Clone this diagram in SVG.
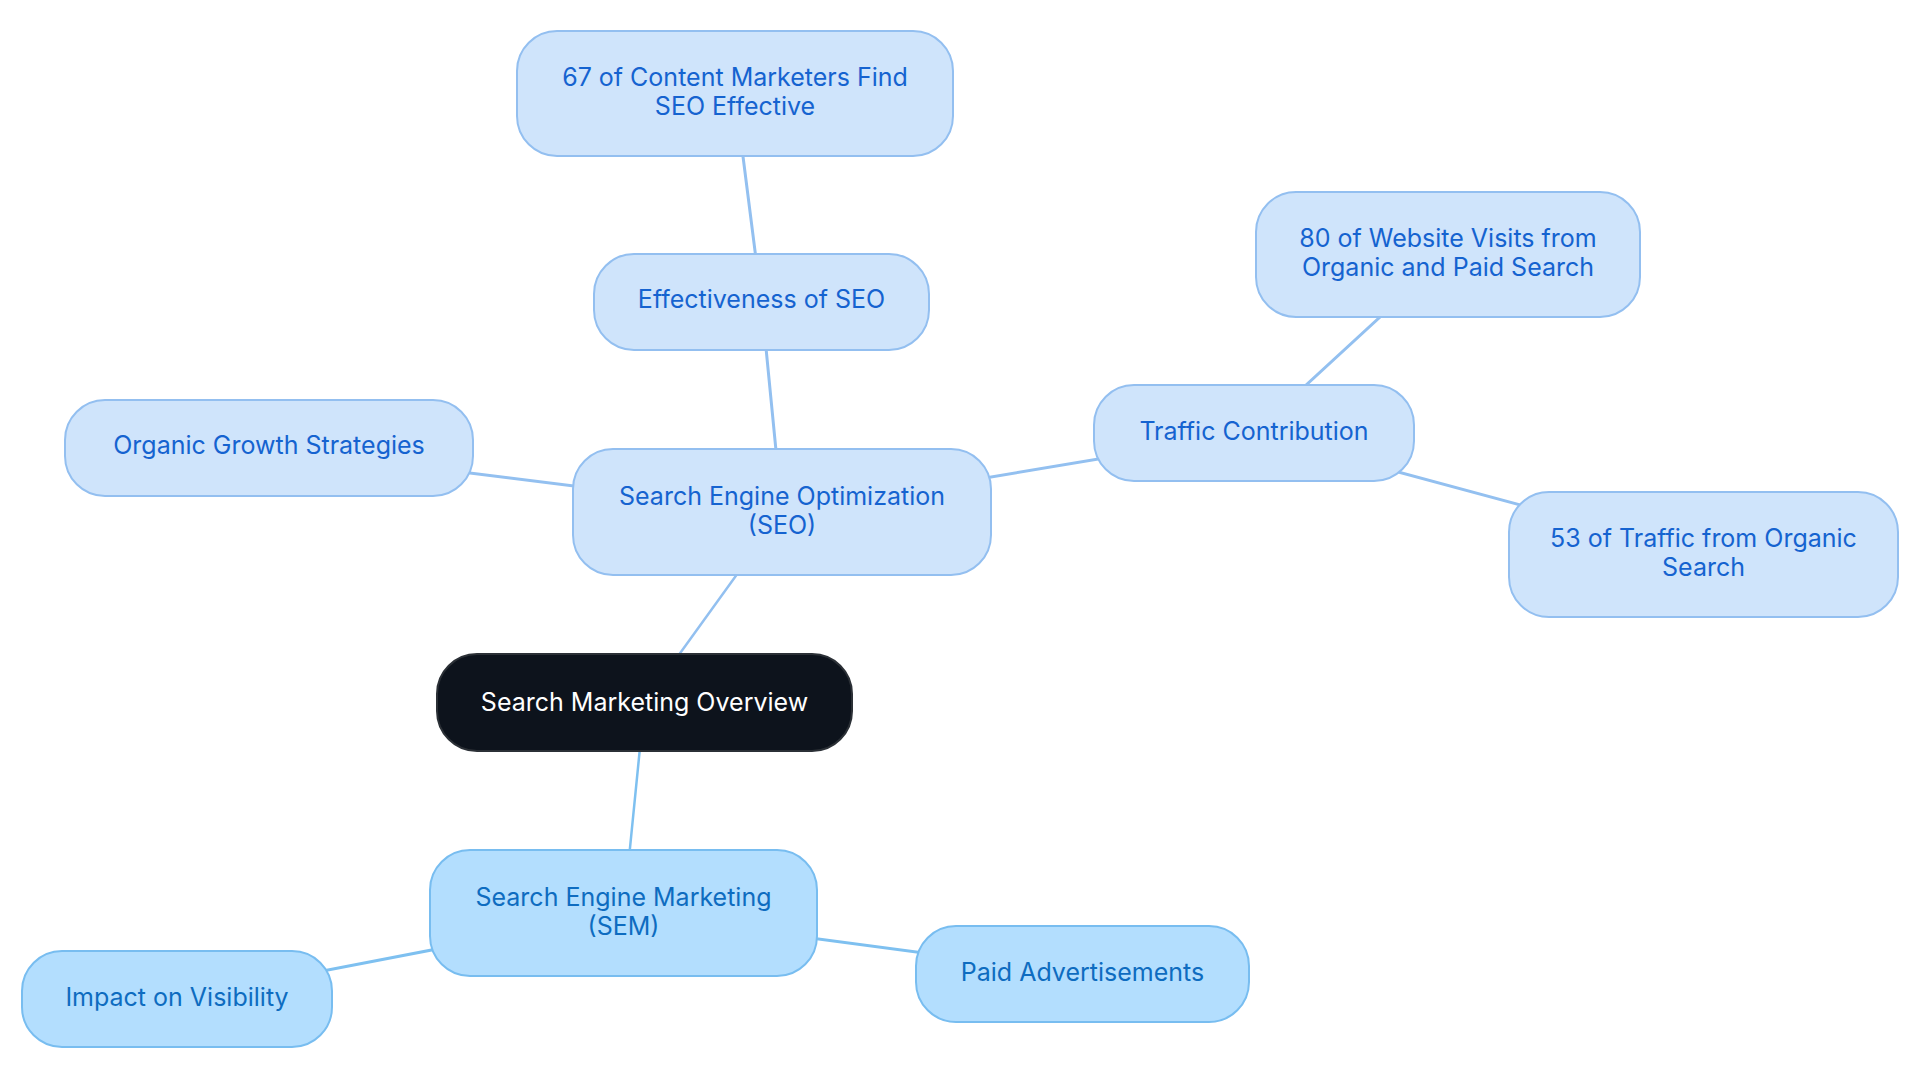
<svg xmlns="http://www.w3.org/2000/svg" width="1920" height="1083" viewBox="0 0 1920 1083">
<style>
.bg{fill:#ffffff}
.e1{stroke:#93c0f0;stroke-width:3;fill:none;stroke-linecap:round}
.e0{stroke:#93c0f0;stroke-width:2.5;fill:none;stroke-linecap:round}
.f0{stroke:#7ec0f0;stroke-width:2.5;fill:none;stroke-linecap:round}
.f1{stroke:#7ec0f0;stroke-width:3;fill:none;stroke-linecap:round}
.seo rect{fill:#cfe4fb;stroke:#93bff0;stroke-width:2}
.seo text{fill:#1563d0}
.sem rect{fill:#b3defe;stroke:#78bdf0;stroke-width:2}
.sem text{fill:#0e6cc0}
.root rect{fill:#0d131c;stroke:#2b3036;stroke-width:2}
.root text{fill:#ffffff}
text{font-family:Inter,"Noto Sans","Liberation Sans",sans-serif;font-size:25px;text-anchor:middle}
</style>
<rect class="bg" x="0" y="0" width="1920" height="1083"/>
<g id="connectors">
<line class="e0" x1="644.5" y1="702.5" x2="782" y2="512"/>
<line class="f0" x1="644.5" y1="702.5" x2="623.5" y2="913"/>
<line class="e1" x1="782" y1="512" x2="761.5" y2="302"/>
<line class="e1" x1="761.5" y1="302" x2="735" y2="93.5"/>
<line class="e1" x1="782" y1="512" x2="269" y2="448"/>
<line class="e1" x1="782" y1="512" x2="1254" y2="433"/>
<line class="e1" x1="1254" y1="433" x2="1448" y2="254.5"/>
<line class="e1" x1="1254" y1="433" x2="1703.5" y2="554.5"/>
<line class="f1" x1="623.5" y1="913" x2="177" y2="999"/>
<line class="f1" x1="623.5" y1="913" x2="1082.5" y2="974"/>
</g>
<g id="node-root" class="root">
<rect x="437" y="654" width="415" height="97" rx="40"/>
<text x="644.5" y="711">Search Marketing Overview</text>
</g>
<g id="node-seo" class="seo">
<rect x="573" y="449" width="418" height="126" rx="40"/>
<text x="782" y="504.5">Search Engine Optimization</text>
<text x="782" y="533.5">(SEO)</text>
</g>
<g id="node-effectiveness" class="seo">
<rect x="594" y="254" width="335" height="96" rx="40"/>
<text x="761.5" y="308">Effectiveness of SEO</text>
</g>
<g id="node-67" class="seo">
<rect x="517" y="31" width="436" height="125" rx="40"/>
<text x="735" y="86">67 of Content Marketers Find</text>
<text x="735" y="115">SEO Effective</text>
</g>
<g id="node-organic" class="seo">
<rect x="65" y="400" width="408" height="96" rx="40"/>
<text x="269" y="454">Organic Growth Strategies</text>
</g>
<g id="node-traffic" class="seo">
<rect x="1094" y="385" width="320" height="96" rx="40"/>
<text x="1254" y="440">Traffic Contribution</text>
</g>
<g id="node-80" class="seo">
<rect x="1256" y="192" width="384" height="125" rx="40"/>
<text x="1448" y="247">80 of Website Visits from</text>
<text x="1448" y="276">Organic and Paid Search</text>
</g>
<g id="node-53" class="seo">
<rect x="1509" y="492" width="389" height="125" rx="40"/>
<text x="1703.5" y="547">53 of Traffic from Organic</text>
<text x="1703.5" y="576">Search</text>
</g>
<g id="node-sem" class="sem">
<rect x="430" y="850" width="387" height="126" rx="40"/>
<text x="623.5" y="905.5">Search Engine Marketing</text>
<text x="623.5" y="934.5">(SEM)</text>
</g>
<g id="node-impact" class="sem">
<rect x="22" y="951" width="310" height="96" rx="40"/>
<text x="177" y="1006">Impact on Visibility</text>
</g>
<g id="node-paid" class="sem">
<rect x="916" y="926" width="333" height="96" rx="40"/>
<text x="1082.5" y="981">Paid Advertisements</text>
</g>
</svg>
